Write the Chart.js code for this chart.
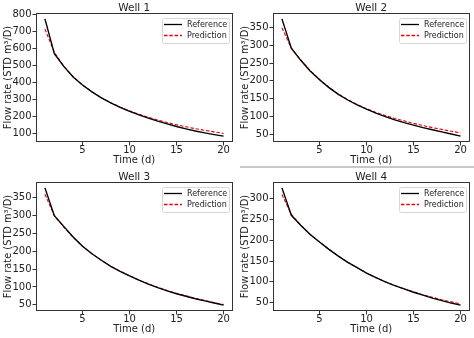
<!DOCTYPE html>
<html>
<head>
<meta charset="utf-8">
<script src="https://cdn.jsdelivr.net/npm/chart.js@4.4.1/dist/chart.umd.min.js"></script>
<style>
  body { margin: 0; background: #fff; width: 474px; height: 338px; position: relative; overflow: hidden; }
  .panel { position: absolute; width: 237px; height: 169px; }
  .sep { position: absolute; left: 240px; top: 166px; width: 234px; height: 2px; background: #c8c8c8; }
</style>
</head>
<body>
<div class="panel" style="left:0;top:0"><canvas id="well1"></canvas></div>
<div class="panel" style="left:237px;top:0"><canvas id="well2"></canvas></div>
<div class="sep"></div>
<div class="panel" style="left:0;top:169px"><canvas id="well3"></canvas></div>
<div class="panel" style="left:237px;top:169px"><canvas id="well4"></canvas></div>
<script>
// ---- data ----
const days = [1, 2, 3, 4, 5, 6, 7, 8, 9, 10, 11, 12, 13, 14, 15, 16, 17, 18, 19, 20];

const well1Ref  = [775, 570, 495, 433, 385, 345, 310, 280, 254, 230, 209, 190, 172, 156, 141, 127, 114, 103, 93, 84];
const well1Pred = [715, 578, 497, 434, 385, 345, 311, 281, 256, 233, 213, 195, 179, 164, 151, 139, 128, 118, 109, 100];

const well2Ref  = [375, 292, 258, 228, 203, 181, 162, 146, 132, 120, 109, 99, 90, 82, 75, 68, 62, 56, 50, 44];
const well2Pred = [350, 292, 259, 229, 204, 182, 163, 147, 133, 121, 111, 102, 94, 87, 80, 74, 68, 63, 58, 53];

const well3Ref  = [378, 300, 270, 240, 214, 193, 175, 158, 144, 131, 119, 108, 98, 89, 81, 74, 67, 61, 55, 49];
const well3Pred = [360, 300, 268, 239, 214, 193, 175, 158, 144, 131, 119, 109, 99, 90, 82, 75, 68, 62, 56, 51];

const well4Ref  = [326, 260, 236, 214, 196, 178, 162, 147, 134, 121, 110, 100, 91, 83, 75, 68, 61, 55, 49, 44];
const well4Pred = [310, 262, 236, 214, 196, 178, 162, 147, 134, 121, 110, 100, 91, 83, 76, 69, 63, 57, 52, 47];

const xTicks = [5, 10, 15, 20];
const well1Ticks = [100, 200, 300, 400, 500, 600, 700, 800];
const well2Ticks = [50, 100, 150, 200, 250, 300, 350];
const well3Ticks = [50, 100, 150, 200, 250, 300, 350];
const well4Ticks = [50, 100, 150, 200, 250, 300];

const seriesNames = ['Reference', 'Prediction'];

const FONT = "'DejaVu Sans', sans-serif";
const INK = '#222';

// frame, title and legend box drawn like matplotlib
const mplDecor = {
    id: 'mplDecor',
    afterDraw(chart, args, opts) {
        const { ctx, chartArea: a } = chart;
        ctx.save();
        ctx.strokeStyle = '#333';
        ctx.lineWidth = 1;
        ctx.strokeRect(Math.round(a.left) + 0.5, Math.round(a.top) + 0.5,
            Math.round(a.right - a.left) - 1, Math.round(a.bottom - a.top) - 1);

        // title
        ctx.fillStyle = INK;
        ctx.font = `10.5px ${FONT}`;
        ctx.textAlign = 'center';
        ctx.textBaseline = 'alphabetic';
        ctx.fillText(opts.title, (a.left + a.right) / 2, a.top - 2.5);

        // legend
        const bw = 67, bh = 25;
        const bx = a.right - 3.5 - bw, by = a.top + 5;
        ctx.beginPath();
        ctx.roundRect(bx + 0.5, by + 0.5, bw, bh, 2);
        ctx.fillStyle = 'rgba(255,255,255,0.8)';
        ctx.fill();
        ctx.strokeStyle = '#d6d6d6';
        ctx.stroke();

        ctx.font = `8px ${FONT}`;
        ctx.textAlign = 'left';
        ctx.textBaseline = 'middle';
        chart.data.datasets.forEach((ds, i) => {
            const yy = Math.round(by + 6 + i * 11) + 0.5;
            ctx.beginPath();
            ctx.setLineDash(ds.borderDash || []);
            ctx.strokeStyle = ds.borderColor;
            ctx.lineWidth = 1.3;
            ctx.moveTo(bx + 2, yy);
            ctx.lineTo(bx + 20, yy);
            ctx.stroke();
            ctx.setLineDash([]);
            ctx.fillStyle = INK;
            ctx.fillText(ds.label, bx + 25, yy + 0.5);
        });
        ctx.restore();
    }
};

function makeWell(id, title, ref, pred, yTicks) {
    const all = ref.concat(pred);
    const lo = Math.min(...all), hi = Math.max(...all);
    const pad = (hi - lo) * 0.05;
    const xPad = (days[days.length - 1] - days[0]) * 0.05;

    new Chart(document.getElementById(id), {
        type: 'line',
        data: {
            datasets: [
                {
                    label: seriesNames[0],
                    data: days.map((d, i) => ({ x: d, y: ref[i] })),
                    borderColor: '#000',
                    borderWidth: 1.4,
                    pointRadius: 0,
                    tension: 0,
                },
                {
                    label: seriesNames[1],
                    data: days.map((d, i) => ({ x: d, y: pred[i] })),
                    borderColor: '#e8000b',
                    borderWidth: 1.1,
                    borderDash: [3.5, 1.8],
                    pointRadius: 0,
                    tension: 0,
                }
            ]
        },
        options: {
            responsive: true,
            maintainAspectRatio: false,
            animation: false,
            layout: { padding: { left: 0, right: 4.5, top: 13, bottom: 0 } },
            plugins: {
                legend: { display: false },
                tooltip: { enabled: false },
                mplDecor: { title: title },
            },
            scales: {
                x: {
                    type: 'linear',
                    min: days[0] - xPad,
                    max: days[days.length - 1] + xPad,
                    afterBuildTicks: s => { s.ticks = xTicks.map(v => ({ value: v })); },
                    afterFit: s => { s.height = 27; },
                    grid: { drawOnChartArea: false, tickLength: 3.5, color: '#333' },
                    border: { display: false },
                    ticks: { color: INK, font: { family: FONT, size: 10 }, padding: -1, maxRotation: 0 },
                    title: { display: true, text: 'Time (d)', color: INK, font: { family: FONT, size: 10 }, padding: { top: 0, bottom: 3 } },
                },
                y: {
                    min: lo - pad,
                    max: hi + pad,
                    afterBuildTicks: s => { s.ticks = yTicks.map(v => ({ value: v })); },
                    afterFit: s => { s.width = 36; },
                    grid: { drawOnChartArea: false, tickLength: 3.5, color: '#333' },
                    border: { display: false },
                    ticks: { color: INK, font: { family: FONT, size: 10 }, padding: 1 },
                    title: { display: true, text: 'Flow rate (STD m³/D)', color: INK, font: { family: FONT, size: 9.8 }, padding: { top: 3, bottom: 0 } },
                }
            }
        },
        plugins: [mplDecor]
    });
}

makeWell('well1', 'Well 1', well1Ref, well1Pred, well1Ticks);
makeWell('well2', 'Well 2', well2Ref, well2Pred, well2Ticks);
makeWell('well3', 'Well 3', well3Ref, well3Pred, well3Ticks);
makeWell('well4', 'Well 4', well4Ref, well4Pred, well4Ticks);
</script>
</body>
</html>
